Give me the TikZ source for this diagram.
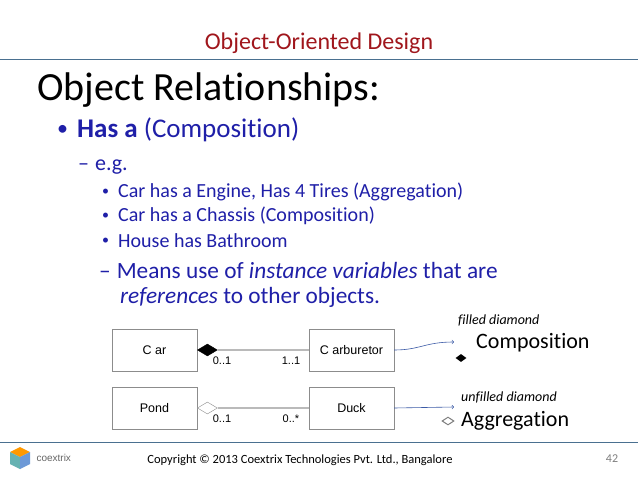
\documentclass[tikz,border=0pt]{standalone}
\usepackage{fontspec}
\setmainfont{Carlito}[Ligatures={NoCommon,NoContextual},RawFeature={-liga;-clig;-calt}]
\usetikzlibrary{shapes.geometric}
\definecolor{tred}{HTML}{A0161C}
\definecolor{rule}{HTML}{4A7090}
\definecolor{hblue}{HTML}{1F1FA8}
\definecolor{boxg}{HTML}{8C8C8C}
\begin{document}
\begin{tikzpicture}[x=1pt,y=-1pt,
  txt/.style={anchor=west,inner sep=0,text=hblue},
  cls/.style={draw=boxg,minimum width=85pt,minimum height=42pt,inner sep=0,font=\fontspec{Liberation Sans}\fontsize{12.5}{14}\selectfont},
  mult/.style={inner sep=0,font=\fontspec{Liberation Sans}\fontsize{11}{12}\selectfont},
  dia/.style={diamond,draw=black,inner sep=0,minimum width=20pt,minimum height=12pt,aspect=1.7},
  assoc/.style={draw=boxg!60,line width=1.2pt},
  ptr/.style={draw=rule!80!blue,->,line width=0.6pt}]
\useasboundingbox (0,0) rectangle (638,479);
\fill[white] (0,0) rectangle (638,479);
\node[text=tred,font=\fontsize{24}{26}\selectfont] (title) at (319,43) {Object-Oriented Design};
\draw[rule,line width=1pt] (0,59) coordinate (l1) -- (638,59) coordinate (l2);
\node[anchor=west,inner sep=0,font=\fontsize{40}{44}\selectfont] (head) at (37,90) {Object Relationships:};
\node[txt,font=\fontsize{22}{24}\selectfont] (bl1) at (57,130) {•};
\node[txt,font=\fontsize{27}{30}\selectfont] (b1) at (77,130) {\textbf{Has a} (Composition)};
\node[txt,font=\fontsize{22}{26}\selectfont] (b2) at (78,167) {–\hspace{6pt}e.g.};
\foreach \y/\t [count=\i] in {192/{Car has a Engine, Has 4 Tires (Aggregation)},216/{Car has a Chassis (Composition)},241/{House has Bathroom}}{
  \node[txt,font=\fontsize{14}{16}\selectfont] (cb\i) at (102,\y) {•};
  \node[txt,font=\fontsize{20}{24}\selectfont] (c\i) at (118,\y) {\t};
}
\node[txt,font=\fontsize{23.3}{26}\selectfont] (b3) at (99,270) {–\hspace{6pt}Means use of \textit{instance variables} that are};
\node[txt,font=\fontsize{23.3}{26}\selectfont] (b4) at (120,297) {\textit{references} to other objects.};
\node[cls] (car) at (154.5,350) {C ar};
\node[cls] (carb) at (351.5,350) {C arburetor};
\node[cls] (pond) at (154.5,408) {Pond};
\node[cls] (duck) at (351.5,408) {Duck};
\node[dia,fill=black,anchor=west] (d1) at (car.east) {};
\node[dia,draw=boxg,fill=white,anchor=west] (d2) at (pond.east) {};
\draw[assoc] (d1.east) -- (carb.west);
\draw[assoc] (d2.east) -- (duck.west);
\node[mult] (m1) at (222,361) {0..1};
\node[mult] (m2) at (291,361) {1..1};
\node[mult] (m3) at (222,419) {0..1};
\node[mult] (m4) at (291,419) {0..*};
\node[anchor=west,inner sep=0,font=\itshape\fontsize{14}{16}\selectfont] (fd) at (458,320) {filled diamond};
\node[anchor=west,inner sep=0,font=\fontsize{22}{24}\selectfont] (comp) at (476,343) {Composition};
\node[diamond,fill=black,inner sep=0,minimum width=11pt,minimum height=8pt] (sd1) at (461,358) {};
\node[anchor=west,inner sep=0,font=\itshape\fontsize{14}{16}\selectfont] (ud) at (461,397) {unfilled diamond};
\node[anchor=west,inner sep=0,font=\fontsize{22}{24}\selectfont] (aggr) at (461,421) {Aggregation};
\node[diamond,draw=gray,line width=1pt,inner sep=0,minimum width=12pt,minimum height=8pt] (sd2) at (448,421) {};
\coordinate (e1) at (454,342);
\coordinate (e2) at (454,407);
\draw[ptr] (carb.east) .. controls (420,350) and (425,342) .. (e1);
\draw[ptr] (duck.east) -- (e2);
\draw[rule,line width=1pt] (0,442) coordinate (l3) -- (638,442) coordinate (l4);
\node[font=\fontsize{12.5}{14}\selectfont] (copy) at (300,460) {Copyright © 2013 Coextrix Technologies Pvt. Ltd., Bangalore};
\node[text=gray,font=\fontsize{12}{14}\selectfont] (pg) at (612,459) {42};
% logo
\fill[orange!80!yellow] (10,452) -- (20,447) -- (30,452) -- (20,457) -- cycle;
\fill[teal!60] (10,452) -- (20,457) -- (20,469) -- (10,464) -- cycle;
\fill[cyan!50!blue!60] (20,457) -- (30,452) -- (30,464) -- (20,469) -- cycle;
\node[anchor=west,text=gray!80!black,font=\fontspec{Liberation Sans}\fontsize{10}{12}\selectfont] (logo) at (33,458) {coextrix};
\end{tikzpicture}
\end{document}
